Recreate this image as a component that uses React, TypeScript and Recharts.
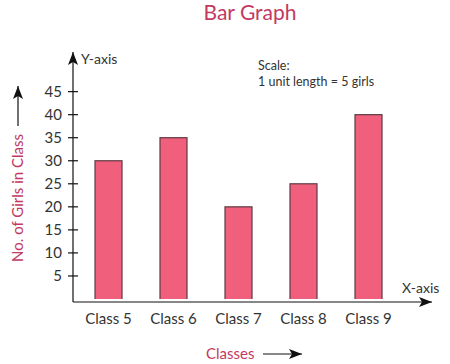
import React from "react";
import { BarChart, Bar, XAxis, YAxis } from "recharts";

const classes = ["Class 5", "Class 6", "Class 7", "Class 8", "Class 9"];
const girls = [30, 35, 20, 25, 40];
const yTicks = [5, 10, 15, 20, 25, 30, 35, 40, 45];

const data = classes.map((c, i) => ({ name: c, girls: girls[i] }));

const FONT = "Lato, 'Open Sans', sans-serif";
const PINK = "#c23a62";
const TEXT = "#333333";

const YTick = (props: any) => {
  const { x, y, payload } = props;
  return (
    <g>
      <line x1={x - 5} x2={x + 5} y1={y} y2={y} stroke="#111" strokeWidth={1.2} />
      <text x={x - 11} y={y} dy="0.35em" textAnchor="end" fontSize={15} fill={TEXT} fontFamily={FONT}>
        {payload.value}
      </text>
    </g>
  );
};

const BarShape = (props: any) => {
  const { x, y, width, background } = props;
  const bottom = background ? background.y + background.height : y + props.height;
  return (
    <rect x={x} y={y} width={width} height={bottom - y} fill="#f0607c" stroke="#5e3a42" strokeWidth={1.2} />
  );
};

export default function App() {
  return (
    <div style={{ position: "absolute", left: 0, top: 0, width: 450, height: 364, background: "#fff" }}>
      <svg width={0} height={0} style={{ position: "absolute" }}>
        <defs>
          <marker id="arrowEnd" viewBox="0 0 13 10" refX="13" refY="5" markerWidth="13" markerHeight="10" markerUnits="userSpaceOnUse" orient="auto">
            <path d="M0,0 L13,5 L0,10 L3,5 z" fill="#111" />
          </marker>
          <marker id="arrowStart" viewBox="0 0 13 10" refX="0" refY="5" markerWidth="13" markerHeight="10" markerUnits="userSpaceOnUse" orient="auto">
            <path d="M13,0 L0,5 L13,10 L10,5 z" fill="#111" />
          </marker>
        </defs>
      </svg>
      <BarChart
        width={450}
        height={364}
        data={data}
        margin={{ top: 52, right: 18, left: 13, bottom: 32 }}
      >
        <XAxis
          dataKey="name"
          height={30}
          padding={{ left: 3, right: 31 }}
          tickSize={0}
          tickMargin={11}
          tickLine={false}
          axisLine={{ stroke: "#111", strokeWidth: 1.2, markerEnd: "url(#arrowEnd)" } as any}
          tick={{ fontSize: 15, fill: TEXT, fontFamily: FONT }}
          interval={0}
        />
        <YAxis
          width={60}
          domain={[0, 53.6]}
          ticks={yTicks}
          padding={{ top: 0, bottom: 3 }}
          tickSize={0}
          tickMargin={0}
          tickLine={false}
          allowDataOverflow
          axisLine={{ stroke: "#111", strokeWidth: 1.2, markerStart: "url(#arrowStart)" } as any}
          tick={<YTick />}
          interval={0}
        />
        <Bar dataKey="girls" barSize={27} shape={<BarShape />} isAnimationActive={false} />
      </BarChart>
      <svg width={450} height={364} style={{ position: "absolute", left: 0, top: 0, pointerEvents: "none" }}>
        <text x={250} y={13} dy="0.35em" textAnchor="middle" fontSize={21} fill={PINK} fontFamily={FONT}>
          Bar Graph
        </text>
        <text x={81} y={59} dy="0.35em" fontSize={14} fill={TEXT} fontFamily={FONT}>
          Y-axis
        </text>
        <text x={402} y={288} dy="0.35em" fontSize={14} fill={TEXT} fontFamily={FONT}>
          X-axis
        </text>
        <text x={258} y={66} dy="0.35em" fontSize={12.5} fill={TEXT} fontFamily={FONT}>
          Scale:
        </text>
        <text x={258} y={82} dy="0.35em" fontSize={12.5} fill={TEXT} fontFamily={FONT}>
          1 unit length = 5 girls
        </text>
        <text x={206} y={354} dy="0.35em" fontSize={15} fill={PINK} fontFamily={FONT}>
          Classes
        </text>
        <line x1={263} y1={354} x2={302} y2={354} stroke="#111" strokeWidth={1.2} markerEnd="url(#arrowEnd)" />
        <text
          x={18}
          y={198}
          dy="0.35em"
          textAnchor="middle"
          fontSize={15}
          fill={PINK}
          fontFamily={FONT}
          transform="rotate(-90 18 198)"
        >
          No. of Girls in Class
        </text>
        <line x1={18} y1={126} x2={18} y2={86} stroke="#111" strokeWidth={1.2} markerEnd="url(#arrowEnd)" />
      </svg>
    </div>
  );
}
